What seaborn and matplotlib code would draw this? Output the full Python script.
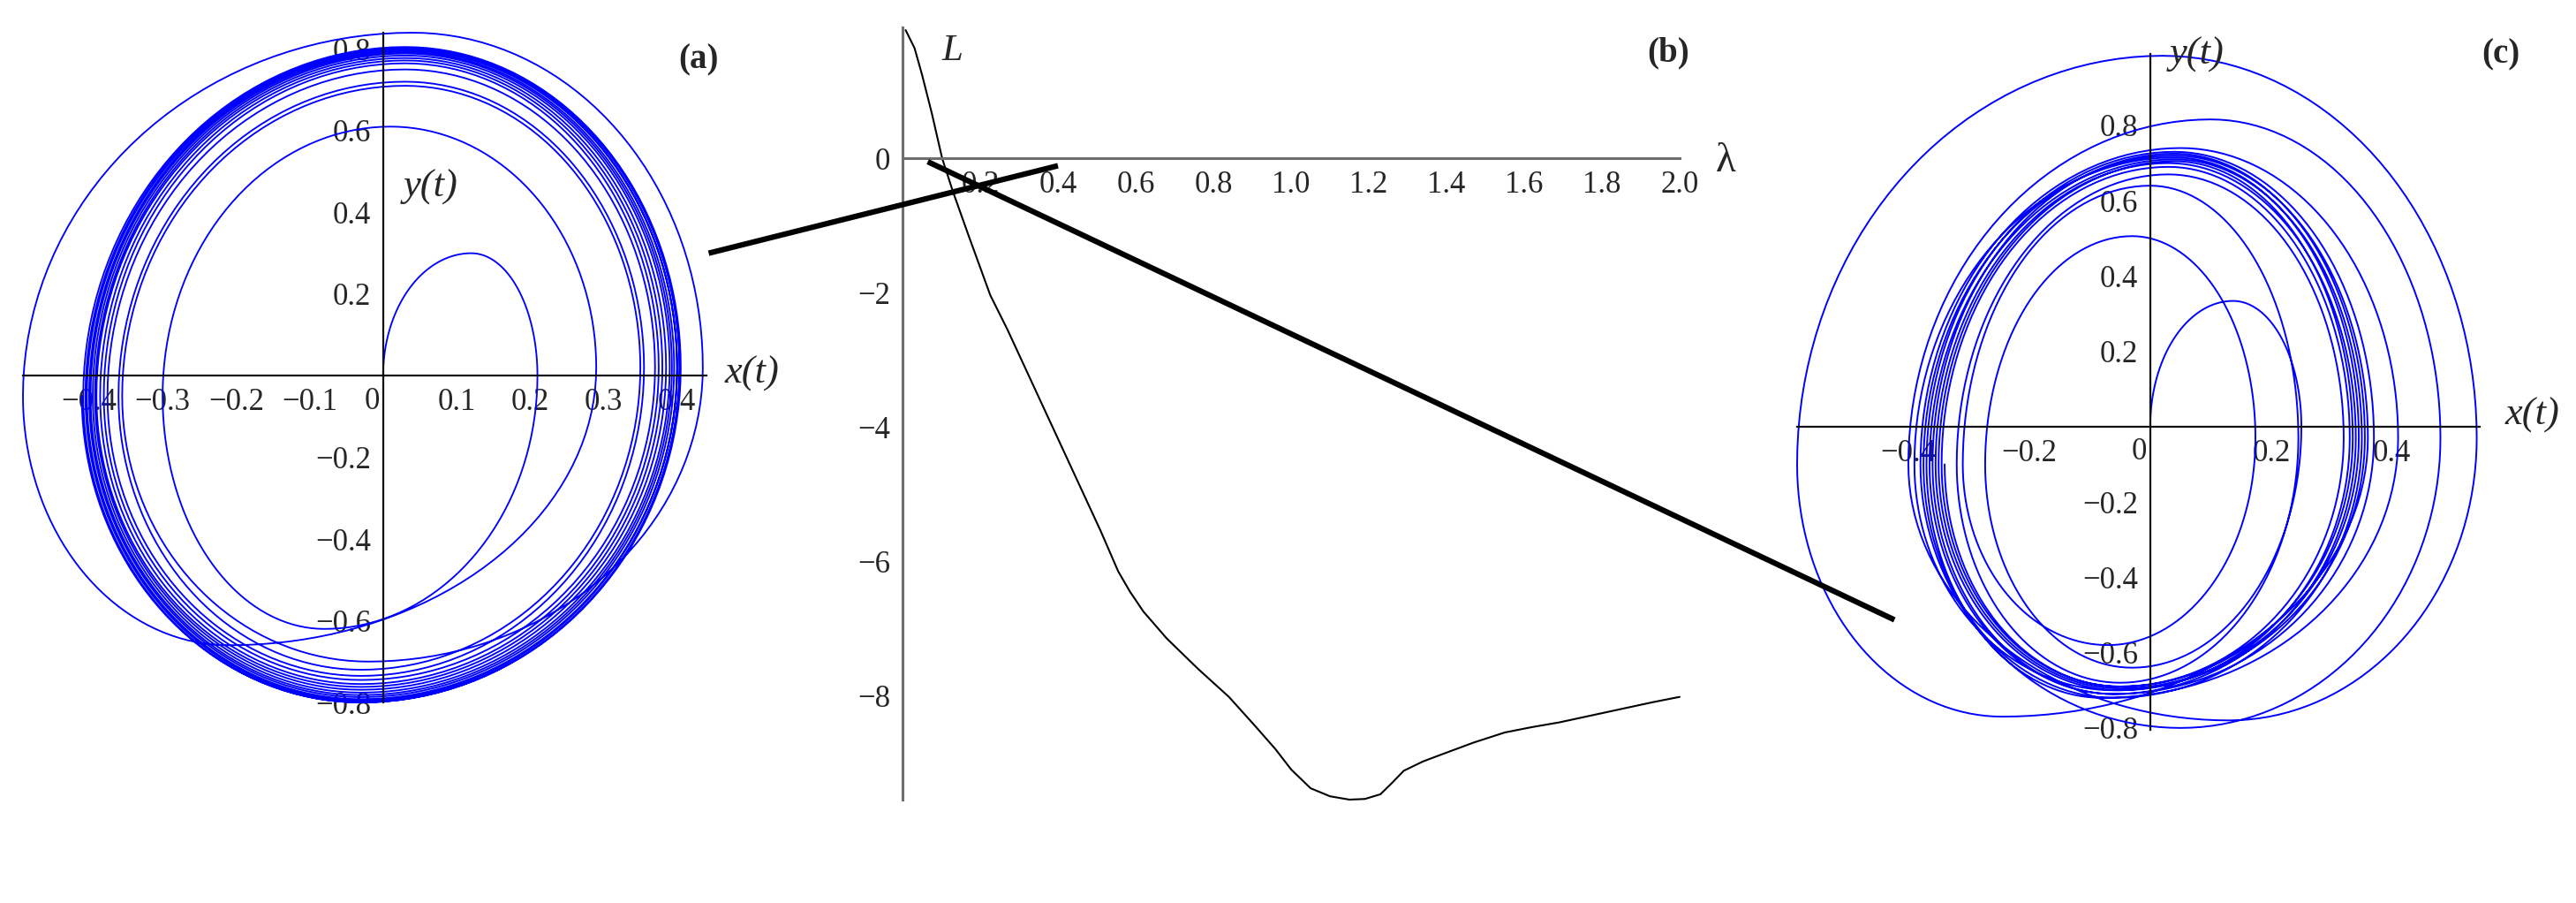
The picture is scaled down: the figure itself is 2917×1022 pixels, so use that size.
import numpy as np
import pandas as pd
import seaborn as sns
import matplotlib.pyplot as plt
from matplotlib.patches import ConnectionPatch

sns.set_style('white')
plt.rcParams['font.family'] = ['Liberation Serif', 'DejaVu Serif']
plt.rcParams['axes.unicode_minus'] = True

# ---- panel (a): turning points of the orbit, turn by turn
a_top_x = [0.12, 0.01, 0.04, 0.03, 0.03, 0.03, 0.03, 0.03, 0.03, 0.03, 0.03, 0.03, 0.03, 0.03, 0.03, 0.03]
a_top_y = [0.30, 0.61, 0.84, 0.71, 0.72, 0.75, 0.765, 0.772, 0.778, 0.784, 0.789, 0.793, 0.797, 0.80, 0.803, 0.805]
a_right_x = [0.21, 0.29, 0.435, 0.35, 0.355, 0.37, 0.375, 0.38, 0.385, 0.39, 0.393, 0.396, 0.40, 0.40, 0.403, 0.405]
a_right_y = [0.0, 0.02, 0.02, 0.02, 0.02, 0.02, 0.02, 0.02, 0.02, 0.02, 0.02, 0.02, 0.02, 0.02, 0.02, 0.02]
a_bot_x = [-0.08, -0.21, -0.02, -0.03, -0.03, -0.03, -0.03, -0.03, -0.03, -0.03, -0.03, -0.03, -0.03, -0.03, -0.03, -0.03]
a_bot_y = [-0.62, -0.66, -0.70, -0.72, -0.735, -0.745, -0.755, -0.762, -0.769, -0.776, -0.782, -0.787, -0.792, -0.796, -0.80, -0.80]
a_left_x = [-0.30, -0.49, -0.355, -0.36, -0.375, -0.38, -0.385, -0.39, -0.392, -0.395, -0.398, -0.40, -0.403, -0.405, -0.408, -0.41]
a_left_y = [-0.05] * 16

# ---- panel (b): Lyapunov exponent L against lambda
lam = [0.008, 0.031, 0.05, 0.075, 0.102, 0.13, 0.17, 0.226, 0.27, 0.33, 0.39, 0.45, 0.51, 0.555,
       0.585, 0.62, 0.68, 0.76, 0.84, 0.91, 0.96, 1.0, 1.05, 1.1, 1.15, 1.19, 1.23, 1.26, 1.29,
       1.34, 1.40, 1.47, 1.55, 1.62, 1.69, 1.77, 1.85, 1.93, 2.0]
L = [1.91, 1.64, 1.25, 0.68, 0.0, -0.50, -1.15, -2.04, -2.55, -3.3, -4.05, -4.8, -5.55, -6.15,
     -6.45, -6.75, -7.15, -7.6, -8.02, -8.47, -8.8, -9.1, -9.38, -9.5, -9.55, -9.54, -9.47, -9.3,
     -9.12, -8.98, -8.85, -8.7, -8.55, -8.47, -8.4, -8.3, -8.2, -8.1, -8.02]

# ---- panel (c): turning points of the orbit
c_top_x = [0.137, -0.03, 0.0, 0.03, 0.03, 0.03, 0.04, 0.04, 0.02, 0.10, 0.05, 0.04, 0.04, 0.04, 0.04]
c_top_y = [0.334, 0.506, 0.64, 0.67, 0.69, 0.70, 0.71, 0.72, 0.985, 0.816, 0.74, 0.73, 0.725, 0.715, 0.705]
c_right_x = [0.25, 0.174, 0.245, 0.32, 0.33, 0.34, 0.35, 0.36, 0.54, 0.48, 0.41, 0.37, 0.355, 0.345, 0.335]
c_right_y = [0.0] + [-0.03] * 14
c_bot_x = [-0.03, -0.07, -0.05, -0.05, -0.05, -0.06, -0.06, -0.245, 0.13, 0.05, -0.08, -0.06, -0.06, -0.05, -0.05]
c_bot_y = [-0.64, -0.58, -0.68, -0.69, -0.70, -0.71, -0.72, -0.77, -0.78, -0.80, -0.72, -0.71, -0.70, -0.695, -0.69]
c_left_x = [-0.273, -0.31, -0.32, -0.345, -0.355, -0.365, -0.375, -0.584, -0.40, -0.38, -0.37, -0.36, -0.39, -0.35, -0.34]
c_left_y = [-0.1] * 15


def orbit(tx, ty, rx, ry, bx, by, lx, ly):
    # join the turning points with quarter arcs (vertical tangent at left/right, horizontal at top/bottom)
    pts = [('v', 0.0, 0.0)]
    for k in range(len(ty)):
        pts += [('h', tx[k], ty[k]), ('v', rx[k], ry[k]), ('h', bx[k], by[k]), ('v', lx[k], ly[k])]
    phi = np.linspace(0, np.pi / 2, 40)
    xs, ys = [], []
    for (k0, x0, y0), (k1, x1, y1) in zip(pts[:-1], pts[1:]):
        if k0 == 'v':
            xs.append(x1 + (x0 - x1) * np.cos(phi))
            ys.append(y0 + (y1 - y0) * np.sin(phi))
        else:
            xs.append(x0 + (x1 - x0) * np.sin(phi))
            ys.append(y1 + (y0 - y1) * np.cos(phi))
    return pd.DataFrame({'x': np.concatenate(xs), 'y': np.concatenate(ys)})


def cross_axes(ax, col, lw, size):
    ax.set_facecolor('none')
    for s in ['top', 'right']:
        ax.spines[s].set_visible(False)
    for s in ['left', 'bottom']:
        ax.spines[s].set_position(('data', 0))
        ax.spines[s].set_color(col)
        ax.spines[s].set_linewidth(lw)
    ax.tick_params(which='major', direction='out', length=7, width=lw, color=col, labelsize=size, pad=3)
    ax.tick_params(which='minor', direction='out', length=4.5, width=lw, color=col)
    ax.set_xlabel('')
    ax.set_ylabel('')


def fmt(vals):
    return [f'{v:.1f}'.replace('-', '\u2212') for v in vals]


W, H = 2917, 1022
TICK = 25
fig = plt.figure(figsize=(W / 100, H / 100), dpi=100)

def box(x0, x1, y0, y1):
    return [x0 / W, 1 - y1 / H, (x1 - x0) / W, (y1 - y0) / H]

ax_a = fig.add_axes(box(26, 800, 37, 795))
ax_b = fig.add_axes(box(1022, 1902, 31, 905))
ax_c = fig.add_axes(box(2035, 2808, 61, 826))

# (a)
da = orbit(a_top_x, a_top_y, a_right_x, a_right_y, a_bot_x, a_bot_y, a_left_x, a_left_y)
sns.lineplot(data=da, x='x', y='y', sort=False, estimator=None, ax=ax_a, color='#0000ff', lw=1.35)
ax_a.set_xlim(-0.49, 0.44)
ax_a.set_ylim(-0.80, 0.84)
cross_axes(ax_a, '#111111', 1.6, TICK)
xt = [-0.4, -0.3, -0.2, -0.1, 0.1, 0.2, 0.3, 0.4]
ax_a.set_xticks(xt, fmt(xt))
ax_a.set_xticks([-0.45, -0.35, -0.25, -0.15, -0.05, 0.05, 0.15, 0.25, 0.35], minor=True)
yt = [-0.8, -0.6, -0.4, -0.2, 0.2, 0.4, 0.6, 0.8]
ax_a.set_yticks(yt, fmt(yt))
ax_a.set_yticks([-0.7, -0.5, -0.3, -0.1, 0.1, 0.3, 0.5, 0.7], minor=True)
ax_a.annotate('0', xy=(0, 0), xytext=(-3, -9), textcoords='offset points', ha='right', va='top', fontsize=TICK)

# (b)
sns.lineplot(x=lam, y=L, sort=False, estimator=None, ax=ax_b, color='black', lw=1.5)
ax_b.set_xlim(0, 2.0)
ax_b.set_ylim(-9.55, 1.95)
cross_axes(ax_b, '#6e6e6e', 2.2, TICK)
bx_t = [0.2, 0.4, 0.6, 0.8, 1.0, 1.2, 1.4, 1.6, 1.8, 2.0]
ax_b.set_xticks(bx_t, fmt(bx_t))
ax_b.set_xticks([0.1, 0.3, 0.5, 0.7, 0.9, 1.1, 1.3, 1.5, 1.7, 1.9], minor=True)
by_t = [-8, -6, -4, -2, 0]
ax_b.set_yticks(by_t, [str(v).replace('-', '\u2212') for v in by_t])
ax_b.set_yticks([-9, -7, -5, -3, -1, 1], minor=True)

# (c)
dc = orbit(c_top_x, c_top_y, c_right_x, c_right_y, c_bot_x, c_bot_y, c_left_x, c_left_y)
sns.lineplot(data=dc, x='x', y='y', sort=False, estimator=None, ax=ax_c, color='#0000ff', lw=1.4)
ax_c.set_xlim(-0.584, 0.545)
ax_c.set_ylim(-0.805, 0.99)
cross_axes(ax_c, '#111111', 1.6, TICK)
xt = [-0.4, -0.2, 0.2, 0.4]
ax_c.set_xticks(xt, fmt(xt))
ax_c.set_xticks([-0.5, -0.3, -0.1, 0.1, 0.3, 0.5], minor=True)
ax_c.set_yticks(yt, fmt(yt))
ax_c.set_yticks([-0.7, -0.5, -0.3, -0.1, 0.1, 0.3, 0.5, 0.7, 0.9], minor=True)
ax_c.annotate('0', xy=(0, 0), xytext=(-3, -9), textcoords='offset points', ha='right', va='top', fontsize=TICK)

for ax in [ax_a, ax_b, ax_c]:
    for ln in ax.lines:
        ln.set_clip_on(False)

# thick connectors from the orbits to the points on the L curve
for xyA, axA, xyB, axB in [((0.443, 0.30), ax_a, (0.40, -0.11), ax_b),
                           ((0.065, -0.05), ax_b, (-0.423, -0.513), ax_c)]:
    con = ConnectionPatch(xyA=xyA, coordsA=axA.transData, xyB=xyB, coordsB=axB.transData,
                          color='black', lw=4.5, capstyle='butt')
    fig.add_artist(con)

# panel labels
def label(px, py, s, **kw):
    fig.text(px / W, 1 - py / H, s, ha='center', va='center', **kw)

label(791, 68, '(a)', fontsize=28, fontweight='bold')
label(488, 212, 'y(t)', fontsize=32, fontstyle='italic')
label(851, 423, 'x(t)', fontsize=32, fontstyle='italic')
label(1078, 58, 'L', fontsize=31, fontstyle='italic')
label(1889, 60, '(b)', fontsize=28, fontweight='bold')
label(1954, 183, '\u03bb', fontsize=34)
label(2488, 62, 'y(t)', fontsize=32, fontstyle='italic')
label(2832, 62, '(c)', fontsize=28, fontweight='bold')
label(2867, 470, 'x(t)', fontsize=32, fontstyle='italic')

fig.savefig('out.png', dpi=100)
